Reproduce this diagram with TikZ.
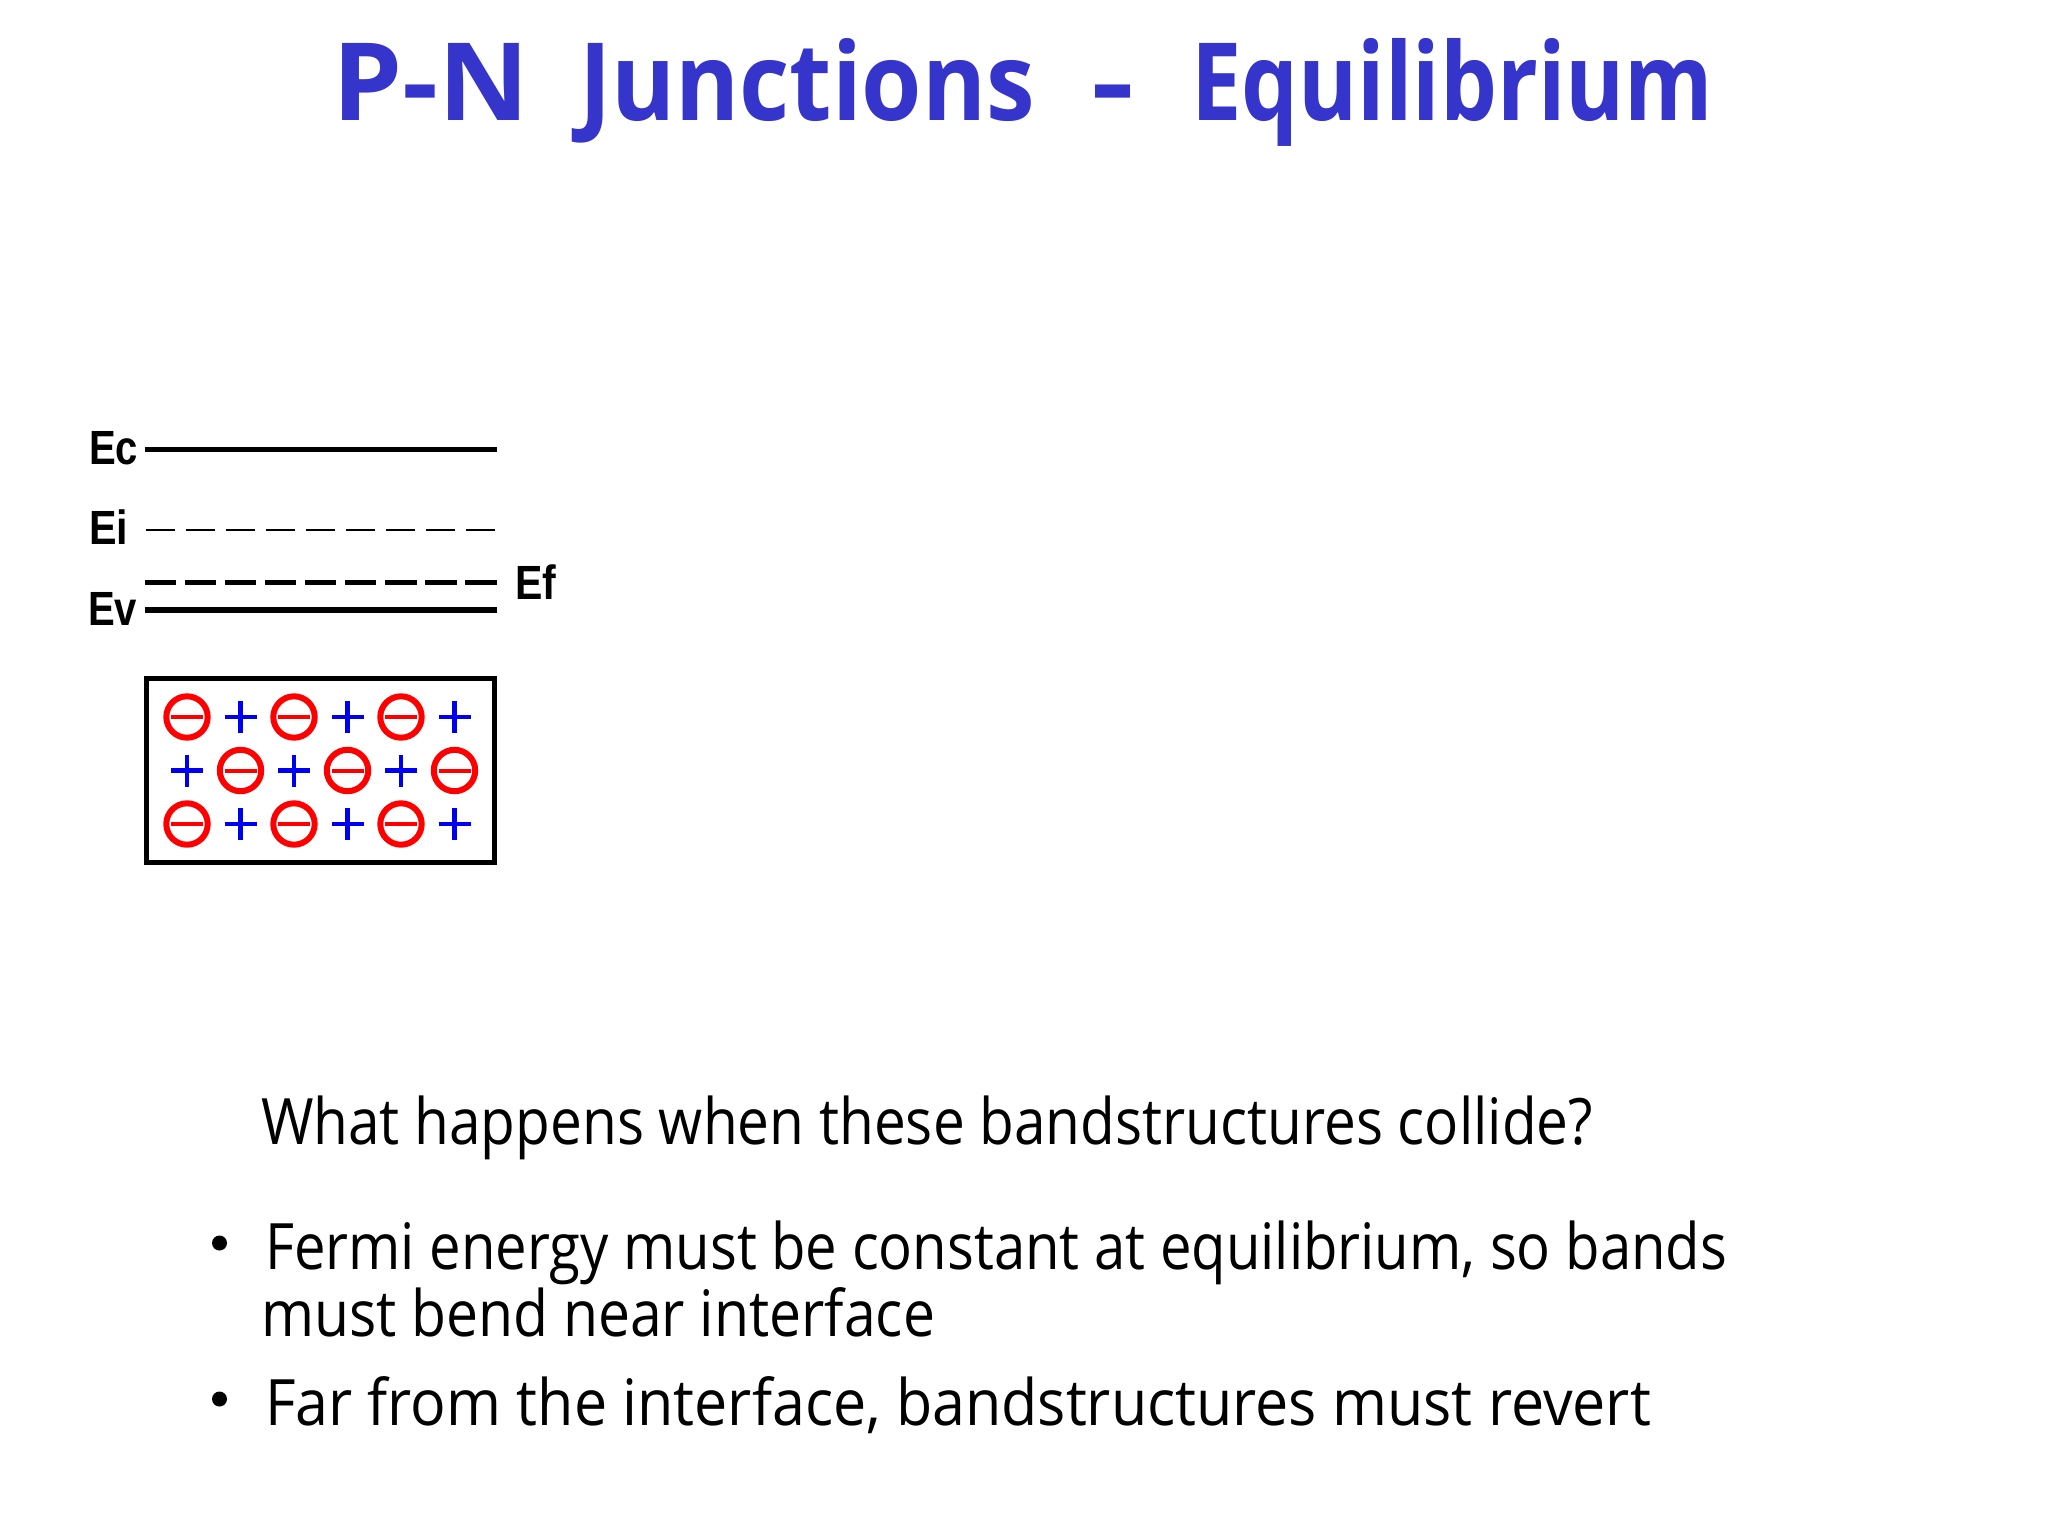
\documentclass[tikz,border=0pt]{standalone}
\usepackage{fontspec}
\setmainfont{Open Sans}
\newfontfamily\labfont{Liberation Sans}
\definecolor{titleblue}{HTML}{3535CC}
\definecolor{plusblue}{HTML}{0000F0}
\newcommand{\fitw}[2]{\resizebox{\dimexpr #1pt/2\relax}{\height}{#2}}
\newcommand{\gapw}[1]{\hspace*{\dimexpr #1pt/2\relax}}
\tikzset{
  txt/.style={anchor=base west,inner sep=0pt,outer sep=0pt},
  titletext/.style={txt,text=titleblue,font=\fontsize{54}{60}\selectfont\bfseries},
  bodytext/.style={txt,text=black,font=\fontsize{32}{40}\selectfont},
  bullet/.style={circle,fill=black,inner sep=0pt,minimum size=7.5pt},
  lab/.style={txt,text=black,font=\labfont\fontsize{24}{26}\selectfont\bfseries},
  band/.style={line width=2.6pt,black},
  thindash/.style={line width=1.2pt,black,dash pattern=on 14.5pt off 5.55pt},
  thickdash/.style={line width=2.6pt,black,dash pattern=on 15.7pt off 4.35pt},
  slab/.style={draw=black,line width=2.4pt,minimum width=174pt,minimum height=91.8pt,inner sep=0pt},
  negc/.style={circle,draw=red,line width=3pt,minimum size=20.7pt,inner sep=0pt},
  negbar/.style={red,line width=2pt},
  posbar/.style={plusblue,line width=2.1pt}
}
\begin{document}
\begin{tikzpicture}[x=0.5pt,y=-0.5pt]
\useasboundingbox (0,0) rectangle (2048,1536);
\fill[white] (0,0) rectangle (2048,1536);
\node[titletext] (title) at (332,120) {\fitw{197}{P-N} \gapw{22}\fitw{456}{Junctions} \gapw{28}\fitw{43}{-} \gapw{29}\fitw{522}{Equilibrium}};
\node[bodytext] (q) at (261,1144) {\fitw{1332}{What happens when these bandstructures collide?}};
\node[bullet] (b1) at (219.5,1243) {};
\node[bodytext] (l1) at (265,1269.5) {\fitw{1462}{Fermi energy must be constant at equilibrium, so bands}};
\node[bodytext] (l2) at (261,1336) {\fitw{674}{must bend near interface}};
\node[bullet] (b2) at (219.5,1399) {};
\node[bodytext] (l3) at (265,1425) {\fitw{1386}{Far from the interface, bandstructures must revert}};
% labels
\node[lab] (ec) at (89,464.5) {\fitw{49}{Ec}};
\node[lab] (ei) at (89,544.5) {\fitw{39}{Ei}};
\node[lab] (ev) at (88,625.5) {\fitw{49}{Ev}};
\node[lab] (ef) at (515,599.5) {\fitw{41}{Ef}};
% band lines
\coordinate (ecL) at (144.5,449.5); \coordinate (ecR) at (496.5,449.5);
\coordinate (eiL) at (145.5,530); \coordinate (eiR) at (496,530);
\coordinate (efL) at (144.5,582.5); \coordinate (efR) at (496.5,582.5);
\coordinate (evL) at (144.5,610); \coordinate (evR) at (496.5,610);
\draw[band] (ecL) -- (ecR);
\draw[thindash] (eiL) -- (eiR);
\draw[thickdash] (efL) -- (efR);
\draw[band] (evL) -- (evR);
% slab
\node[slab] (box) at (320.5,770.5) {};
\foreach \r/\y in {0/717,1/770.5,2/824}{
  \foreach \c/\x in {0/187,1/240.5,2/294,3/347.5,4/401,5/454.5}{
    \pgfmathtruncatemacro{\oddcell}{mod(\r+\c,2)}
    \coordinate (p\r\c) at (\x,\y);
    \ifnum\oddcell=0
      \node[negc] (n\r\c) at (p\r\c) {};
      \draw[negbar] ([xshift=-8pt]p\r\c) -- ([xshift=8pt]p\r\c);
    \else
      \draw[posbar] ([xshift=-8pt]p\r\c) -- ([xshift=8pt]p\r\c);
      \draw[posbar] ([yshift=-8pt]p\r\c) -- ([yshift=8pt]p\r\c);
    \fi
  }
}
\end{tikzpicture}
\end{document}
